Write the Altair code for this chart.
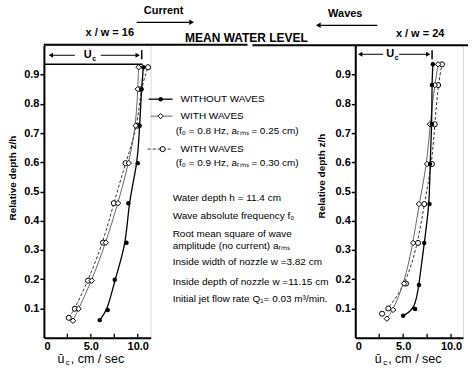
import altair as alt
import pandas as pd

# ---------------- data ----------------
# left panel, x / w = 16
L_Z_NW = [0.925, 0.85, 0.725, 0.597, 0.46, 0.325, 0.198, 0.095, 0.06]
L_U_NW = [10.6, 10.4, 10.2, 10.0, 9.0, 8.8, 7.55, 6.8, 5.95]
L_Z_W8 = [0.925, 0.85, 0.725, 0.597, 0.46, 0.325, 0.195, 0.099, 0.058]
L_U_W8 = [10.1, 10.0, 9.8, 9.05, 7.9, 6.6, 5.1, 3.7, 3.1]
L_Z_W9 = [0.925, 0.85, 0.725, 0.597, 0.46, 0.325, 0.195, 0.099, 0.068]
L_U_W9 = [11.1, 10.3, 10.0, 8.7, 7.45, 6.3, 4.7, 3.3, 2.65]

# right panel, x / w = 24
R_Z_NW = [0.935, 0.864, 0.73, 0.594, 0.457, 0.324, 0.18, 0.098, 0.075]
R_U_NW = [8.1, 8.0, 8.0, 7.8, 7.75, 7.2, 6.65, 6.25, 5.0]
R_Z_W8 = [0.935, 0.864, 0.73, 0.594, 0.457, 0.324, 0.185, 0.095, 0.065]
R_U_W8 = [8.65, 8.3, 7.8, 7.5, 6.65, 6.05, 5.1, 3.95, 3.3]
R_Z_W9 = [0.935, 0.864, 0.73, 0.594, 0.457, 0.324, 0.185, 0.10, 0.082]
R_U_W9 = [9.05, 8.65, 8.3, 8.0, 7.2, 6.55, 5.3, 3.45, 2.8]

X_TICKS = [2.5, 5.0, 7.5, 10.0]
X_LABELS = [0, 5, 10]
Y_TICKS = [0.1, 0.2, 0.3, 0.4, 0.5, 0.6, 0.7, 0.8, 0.9]

LEGEND = ["WITHOUT WAVES", "WITH WAVES", "(f\u2080 = 0.8 Hz, a\u1d63\u2098\u209b = 0.25 cm)",
          "WITH WAVES", "(f\u2080 = 0.9 Hz, a\u1d63\u2098\u209b = 0.30 cm)"]
NOTES = ["Water depth h = 11.4 cm", "Wave absolute frequency f\u2080",
         "Root mean square of wave", "amplitude (no current) a\u1d63\u2098\u209b",
         "Inside width of nozzle w =3.82 cm", "Inside depth of nozzle w =11.15 cm",
         "Initial jet flow rate Q\u2081= 0.03 m\u00b3/min."]

FONT = "Liberation Sans"
H = 293
one = pd.DataFrame({"k": [0]})


def txt(s, x, y, size=10, bold=False, align="left", angle=0):
    return alt.Chart(one).mark_text(
        text=s, fontSize=size, fontWeight="bold" if bold else "normal", font=FONT,
        align=align, baseline="middle", color="black", angle=angle
    ).encode(x=alt.value(x), y=alt.value(y))


def seg(x1, y1, x2, y2, w=1.0, dash=None, color="black", opacity=1):
    kw = dict(strokeWidth=w, color=color, opacity=opacity)
    if dash:
        kw["strokeDash"] = dash
    return alt.Chart(one).mark_rule(**kw).encode(
        x=alt.value(x1), y=alt.value(y1), x2=alt.value(x2), y2=alt.value(y2))


def sym(shape, x, y, size, fill="black"):
    return alt.Chart(one).mark_point(
        shape=shape, filled=True, fill=fill, stroke="black",
        strokeWidth=1 if fill == "white" else 0, size=size, opacity=1
    ).encode(x=alt.value(x), y=alt.value(y))


def panel(u_nw, z_nw, u_w8, z_w8, u_w9, z_w9, xmax, width, extras):
    xs = alt.Scale(domain=[0, xmax], nice=False, zero=False)
    ys = alt.Scale(domain=[0, 1.0], nice=False, zero=False)
    xax = alt.Axis(values=X_LABELS, ticks=False, title=None, grid=False,
                   labelExpr="datum.value == 0 ? '0' : format(datum.value, '.1f')",
                   domainColor="black", domainWidth=2, labelFont=FONT,
                   labelFontWeight="bold", labelFontSize=11, labelColor="black",
                   labelPadding=3)
    yax = alt.Axis(values=Y_TICKS, format=".1f", title=None, grid=False,
                   tickSize=4, tickWidth=1.5, tickColor="black",
                   domainColor="black", domainWidth=2, labelFont=FONT,
                   labelFontWeight="bold", labelFontSize=11, labelColor="black",
                   labelPadding=1)
    X = alt.X("u:Q", scale=xs, axis=xax)
    Y = alt.Y("z:Q", scale=ys, axis=yax)
    nw = alt.Chart(pd.DataFrame({"u": u_nw, "z": z_nw}))
    w8 = alt.Chart(pd.DataFrame({"u": u_w8, "z": z_w8}))
    w9 = alt.Chart(pd.DataFrame({"u": u_w9, "z": z_w9}))
    layers = [
        w9.mark_line(color="#333", strokeWidth=1, strokeDash=[3, 2], interpolate="basis").encode(x=X, y=Y, order="z:Q"),
        w8.mark_line(color="#555", strokeWidth=0.9, interpolate="basis").encode(x=X, y=Y, order="z:Q"),
        nw.mark_line(color="black", strokeWidth=1.3, interpolate="basis").encode(x=X, y=Y, order="z:Q"),
        w9.mark_point(shape="circle", filled=True, fill="white", stroke="black", strokeWidth=1, size=26, opacity=1).encode(x=X, y=Y),
        w8.mark_point(shape="diamond", filled=True, fill="white", stroke="black", strokeWidth=1, size=30, opacity=1).encode(x=X, y=Y),
        nw.mark_point(shape="circle", filled=True, color="black", size=20, opacity=1).encode(x=X, y=Y),
        alt.Chart(pd.DataFrame({"u": X_TICKS})).mark_rule(color="black", strokeWidth=1.3).encode(
            x=X, y=alt.value(H), y2=alt.value(H - 4)),
    ]
    return alt.layer(*layers, *extras).properties(width=width, height=H)


left_extras = [
    seg(-43, -44, -43, -40, w=0, opacity=0),  # layout anchor
    txt("Current", 120, -34, 11, True, "center"),
    seg(93, -23, 146, -23, 1.2), sym("triangle-right", 148, -23, 30),
    txt("x / w = 16", 66, -12, 11, True, "center"),
    txt("MEAN WATER LEVEL", 203, -7, 12, True, "center"),
    seg(0, -0.5, 204, -0.5, 2),
    seg(6, 10, 31, 10, 1), sym("triangle-left", 7, 10, 24),
    txt("U", 44, 10, 11, True, "center"), txt("c", 48.5, 13.5, 7, True),
    seg(57, 10, 94, 10, 1), sym("triangle-right", 94, 10, 24),
    seg(98, 5, 98, 14, 1.5),
    seg(0, 19, 99, 19, 1.3),
    # legend
    seg(105, 54, 129, 54, 1.3), sym("circle", 117, 54, 20),
    txt(LEGEND[0], 137, 54, 10),
    seg(107, 71, 129, 71, 0.9, color="#555"), sym("diamond", 117, 71, 28, "white"),
    txt(LEGEND[1], 137, 71, 10),
    txt(LEGEND[2], 132, 86, 10),
    seg(104, 104, 129, 104, 1, dash=[3, 2], color="#333"), sym("circle", 119, 104, 26, "white"),
    txt(LEGEND[3], 137, 104, 10),
    txt(LEGEND[4], 132, 118, 10),
    txt(NOTES[0], 129, 153, 10), txt(NOTES[1], 129, 171, 10),
    txt(NOTES[2], 129, 189, 10), txt(NOTES[3], 129, 201, 10),
    txt(NOTES[4], 129, 217, 10), txt(NOTES[5], 129, 237, 10),
    txt(NOTES[6], 129, 254, 10),
    # axis titles
    txt("Relative depth z/h", -31, 133, 10, True, "center", 270),
    txt("\u016b", 17, 314, 12.5, False, "center"), txt("c", 22, 318, 8),
    txt(", cm / sec", 27, 314, 12.5),
]

right_extras = [
    txt("Waves", -10, -31, 11, True, "center"),
    seg(-35, -20, 22, -20, 1.2), sym("triangle-left", -37, -20, 30),
    txt("x / w = 24", 65, -11, 11, True, "center"),
    seg(-103, 0, 113, 0, 2),
    seg(5, 9, 28, 9, 1), sym("triangle-left", 5, 9, 24),
    txt("U", 35, 9, 11, True, "center"), txt("c", 39.5, 12.5, 7, True),
    seg(44, 9, 73, 9, 1), sym("triangle-right", 73, 9, 24),
    seg(77, 5, 77, 14, 1.5),
    txt("Relative depth z/h", -33, 131, 10, True, "center", 270),
    txt("\u016b", 23, 314, 12.5, False, "center"), txt("c", 28, 318, 8),
    txt(", cm / sec", 33, 314, 12.5),
]

left = panel(L_U_NW, L_Z_NW, L_U_W8, L_Z_W8, L_U_W9, L_Z_W9, 11.38, 107, left_extras)
right = panel(R_U_NW, R_Z_NW, R_U_W8, R_Z_W8, R_U_W9, R_Z_W9, 11.25, 108, right_extras)

chart = alt.hconcat(left, right, spacing=205, bounds="flush").properties(
    padding={"left": 0, "top": 0, "right": 4, "bottom": 4}
).configure_view(stroke=None).configure(background="white")

chart.save("out.html", embed_options={"renderer": "svg", "actions": False})
